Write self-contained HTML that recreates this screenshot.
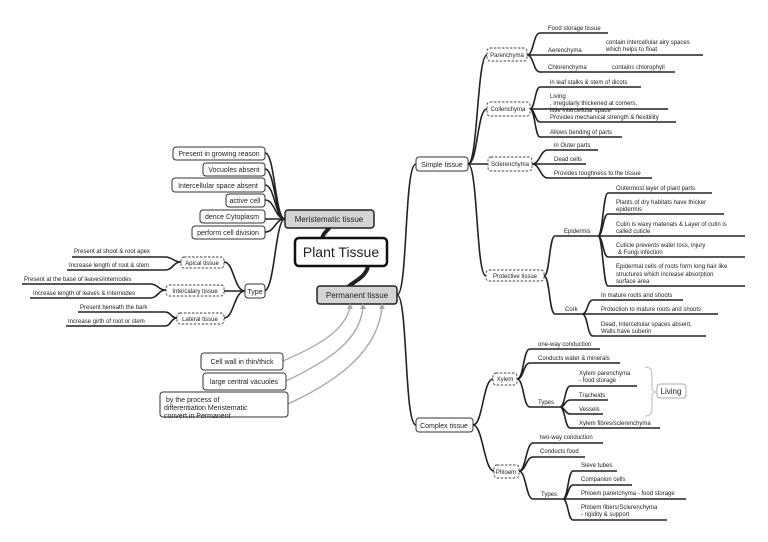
<!DOCTYPE html>
<html><head><meta charset="utf-8"><style>
html,body{margin:0;padding:0;background:#fff;}
svg{display:block;font-family:"Liberation Sans",sans-serif;}
.l{fill:none;stroke:#222;stroke-width:1.6;}
.g{fill:none;stroke:#aaa;stroke-width:1.4;}
.b{fill:#fff;stroke:#333;stroke-width:1;}
.d{fill:#fff;stroke:#444;stroke-width:0.9;stroke-dasharray:2.5 1.5;}
.gr{fill:#d4d4d4;stroke:#222;stroke-width:1.5;}
text{fill:#222;}
.s{font-size:6px;}
.m{font-size:7px;}
</style></head><body>
<svg width="768" height="542" viewBox="0 0 768 542">
<!-- center -->
<path d="M322,238 C324,232 328,230 330,227" stroke="#222" stroke-width="4" fill="none"/>
<path d="M368,266 C366,278 352,282 347,288" stroke="#222" stroke-width="4" fill="none"/>
<rect x="295" y="238" width="92" height="28" rx="4" fill="#fff" stroke="#111" stroke-width="2.5"/>
<text x="341" y="257" font-size="14" text-anchor="middle">Plant Tissue</text>
<rect class="gr" x="285" y="210" width="89" height="18" rx="3"/>
<text x="329" y="222" font-size="8" text-anchor="middle">Meristematic tissue</text>
<rect class="gr" x="317" y="286" width="80" height="18" rx="3"/>
<text x="357" y="298" font-size="8" text-anchor="middle">Permanent tissue</text>

<!-- left meristematic connectors -->
<path class="l" d="M285,219 C275,219 275,153 265,153 M285,219 C275,219 275,169 265,169 M285,219 C275,219 275,185 265,185 M285,219 C275,219 275,200 265,200 M285,219 H265 M285,219 C275,219 275,232 265,232 M285,219 C275,219 275,291 264,291"/>
<rect class="b" x="173" y="147" width="92" height="13" rx="3"/><text class="m" x="219" y="156" text-anchor="middle">Present in growing reason</text>
<rect class="b" x="203" y="163" width="62" height="13" rx="3"/><text class="m" x="234" y="172" text-anchor="middle">Vocuoles absent</text>
<rect class="b" x="172" y="178" width="93" height="14" rx="3"/><text class="m" x="218" y="188" text-anchor="middle">Intercellular space absent</text>
<rect class="b" x="226" y="194" width="39" height="13" rx="3"/><text class="m" x="245" y="203" text-anchor="middle">active cell</text>
<rect class="b" x="200" y="210" width="65" height="13" rx="3"/><text class="m" x="232" y="219" text-anchor="middle">dence Cytoplasm</text>
<rect class="b" x="192" y="226" width="73" height="13" rx="3"/><text class="m" x="228" y="235" text-anchor="middle">perform cell division</text>

<path class="l" d="M245,291 C234,291 234,262 224,262 M245,291 H224 M245,291 C234,291 234,318 224,318"/>
<rect class="b" x="245" y="284" width="20" height="14" rx="3"/><text class="m" x="255" y="294" text-anchor="middle">Type</text>
<path class="l" d="M181,262 C173,262 173,257 165,257 H72 M181,262 C173,262 173,270 165,270 H67 M166,290 C158,290 158,284 150,284 H22 M166,290 C158,290 158,298 150,298 H30 M177,318 C171,318 171,312 165,312 H78 M177,318 C171,318 171,326 165,326 H66"/>
<rect class="d" x="181" y="257" width="43" height="11" rx="3"/><text class="s" x="202" y="265" text-anchor="middle">Apical tissue</text>
<rect class="d" x="166" y="285" width="58" height="11" rx="3"/><text class="s" x="195" y="293" text-anchor="middle">Intercalary tissue</text>
<rect class="d" x="177" y="313" width="47" height="11" rx="3"/><text class="s" x="200" y="321" text-anchor="middle">Lateral tissue</text>
<text class="s" x="74" y="253">Present at shoot &amp; root apex</text>
<text class="s" x="69" y="267">Increase length of root &amp; stem</text>
<text class="s" x="24" y="281">Present at the base of leaves/internodes</text>
<text class="s" x="33" y="295">Increase length of leaves &amp; internodes</text>
<text class="s" x="80" y="309">Present beneath the bark</text>
<text class="s" x="68" y="323">Increase girth of root or stem</text>

<!-- gray arrows -->
<path class="g" d="M283,361 C320,345 345,330 350,307 M286,381 C330,360 360,340 363,307 M288,404 C340,380 378,350 382,307"/>
<path d="M347,309 L350,303 L353,309Z M360,309 L363,303 L366,309Z M379,309 L382,303 L385,309Z" fill="#aaa"/>
<rect class="b" x="201" y="353" width="82" height="17" rx="3"/><text class="m" x="242" y="364" text-anchor="middle">Cell wall in thin/thick</text>
<rect class="b" x="203" y="373" width="83" height="17" rx="3"/><text class="m" x="244" y="384" text-anchor="middle">large central vacuoles</text>
<rect class="b" x="160" y="392" width="128" height="25" rx="3"/>
<text class="m" x="166" y="402">by the process of</text>
<text class="m" x="164" y="410">differentiation Meristematic</text>
<text class="m" x="164" y="418">convert in Permanent</text>

<!-- trunk -->
<path class="l" d="M397,295 C408,295 404,164 416,164 M397,295 C408,295 404,425 416,425"/>
<rect class="b" x="416" y="157" width="52" height="14" rx="3"/><text class="m" x="442" y="167" text-anchor="middle">Simple tissue</text>
<rect class="b" x="416" y="418" width="57" height="14" rx="3"/><text class="m" x="444" y="428" text-anchor="middle">Complex tissue</text>

<!-- simple -->
<path class="l" d="M468,164 C478,164 477,55 487,55 M468,164 C478,164 477,109 487,109 M468,164 H488 M468,164 C478,164 476,276 486,276"/>
<path class="l" d="M527,55 C534,55 533,33 540,33 H608 M527,55 H703 M527,55 C534,55 533,72 540,72 H675"/>
<path class="l" d="M530,109 C535,109 535,87 540,87 H641 M530,109 H668 M530,109 C535,109 535,122 540,122 H676 M530,109 C535,109 535,137 540,137 H622"/>
<path class="l" d="M532,164 C540,164 540,150 548,150 H598 M532,164 H586 M532,164 C540,164 540,178 548,178 H652"/>
<path class="l" d="M544,276 C550,276 549,236 555,236 H598 M544,276 C550,276 549,314 555,314 H582"/>
<path class="l" d="M598,236 C603,236 603,193 608,193 H712 M598,236 C603,236 603,214 608,214 H724 M598,236 H745 M598,236 C603,236 603,257 608,257 H745 M598,236 C603,236 603,286 608,286 H745"/>
<path class="l" d="M582,314 C588,314 587,300 593,300 H683 M582,314 H718 M582,314 C588,314 587,336 593,336 H706"/>
<rect class="d" x="487" y="48" width="40" height="13" rx="3"/><text class="s" x="507" y="57" text-anchor="middle">Parenchyma</text>
<rect class="d" x="487" y="102" width="43" height="14" rx="3"/><text class="s" x="508" y="111" text-anchor="middle">Collenchyma</text>
<rect class="d" x="488" y="157" width="44" height="14" rx="3"/><text class="s" x="510" y="166" text-anchor="middle">Sclerenchyma</text>
<rect class="d" x="486" y="270" width="58" height="11" rx="3"/><text class="s" x="515" y="278" text-anchor="middle">Protective tissue</text>
<g class="s">
<text x="548" y="30">Food storage tissue</text>
<text x="548" y="52">Aerenchyma</text>
<text x="606" y="44">contain intercellular airy spaces</text>
<text x="606" y="51">which helps to float</text>
<text x="548" y="69">Chlorenchyma</text>
<text x="612" y="69">contains chlorophyll</text>
<text x="550" y="84">in leaf stalks &amp; stem of dicots</text>
<text x="550" y="98">Living</text>
<text x="550" y="105">, irregularly thickened at corners,</text>
<text x="550" y="112">little intercellular space</text>
<text x="550" y="119">Provides mechanical strength &amp; flexibility</text>
<text x="550" y="134">Allows bending of parts</text>
<text x="554" y="147">in Outer parts</text>
<text x="554" y="161">Dead cells</text>
<text x="554" y="175">Provides toughness to the tissue</text>
<text x="564" y="233">Epidermis</text>
<text x="616" y="190">Outermost layer of plant parts</text>
<text x="616" y="204">Plants of dry habitats have thicker</text>
<text x="616" y="211">epidermis</text>
<text x="616" y="226">Cutin is waxy materials &amp; Layer of cutin is</text>
<text x="616" y="233">called cuticle</text>
<text x="616" y="247">Cuticle prevents water loss, injury</text>
<text x="618" y="254">&amp; Fungi infection</text>
<text x="616" y="268">Epidermal cells of roots form long hair like</text>
<text x="616" y="276">structures which increase absorption</text>
<text x="616" y="283">surface area</text>
<text x="565" y="311">Cork</text>
<text x="601" y="297">In mature roots and shoots</text>
<text x="601" y="311">Protection to mature roots and shoots</text>
<text x="601" y="326">Dead, Intercellular spaces absent,</text>
<text x="601" y="333">Walls have suberin</text>
</g>

<!-- complex -->
<path class="l" d="M473,425 C483,425 483,379 493,379 M473,425 C483,425 484,471 494,471"/>
<path class="l" d="M517,379 C524,379 523,349 530,349 H600 M517,379 C524,379 523,363 530,363 H620 M517,379 C524,379 523,407 530,407 H560"/>
<path class="l" d="M560,407 C565,407 565,386 570,386 H637 M560,407 C565,407 565,400 570,400 H608 M560,407 C565,407 565,414 570,414 H603 M560,407 C565,407 565,428 570,428 H660"/>
<path class="l" d="M519,471 C526,471 526,443 533,443 H603 M519,471 C526,471 526,457 533,457 H585 M519,471 C526,471 526,499 533,499 H563"/>
<path class="l" d="M563,499 C568,499 568,471 573,471 H617 M563,499 C568,499 568,485 573,485 H632 M563,499 H686 M563,499 C568,499 568,520 573,520 H667"/>
<rect class="d" x="493" y="373" width="24" height="12" rx="3"/><text class="s" x="505" y="381" text-anchor="middle">Xylem</text>
<rect class="d" x="494" y="465" width="25" height="13" rx="3"/><text class="s" x="506" y="474" text-anchor="middle">Phloem</text>
<path d="M645,367 C652,367 652,372 652,380 V388 C652,391 655,392 656,392 C655,392 652,393 652,396 V408 C652,414 650,416 645,416" fill="none" stroke="#bbb" stroke-width="1"/>
<rect x="657" y="384" width="29" height="14" rx="3" fill="#fff" stroke="#aaa" stroke-width="1"/>
<text x="671" y="394" font-size="8" text-anchor="middle">Living</text>
<g class="s">
<text x="538" y="346">one-way conduction</text>
<text x="538" y="360">Conducts water &amp; minerals</text>
<text x="538" y="404">Types</text>
<text x="579" y="375">Xylem parenchyma</text>
<text x="579" y="382">- food storage</text>
<text x="579" y="397">Tracheids</text>
<text x="579" y="411">Vessels</text>
<text x="579" y="425">Xylem fibres/sclerenchyma</text>
<text x="540" y="439">two-way conduction</text>
<text x="540" y="453">Conducts food</text>
<text x="541" y="496">Types</text>
<text x="581" y="467">Sieve tubes</text>
<text x="581" y="481">Companion cells</text>
<text x="581" y="495">Phloem parenchyma - food storage</text>
<text x="581" y="509">Phloem fibers/Sclerenchyma</text>
<text x="581" y="516">- rigidity &amp; support</text>
</g>
</svg>
</body></html>
